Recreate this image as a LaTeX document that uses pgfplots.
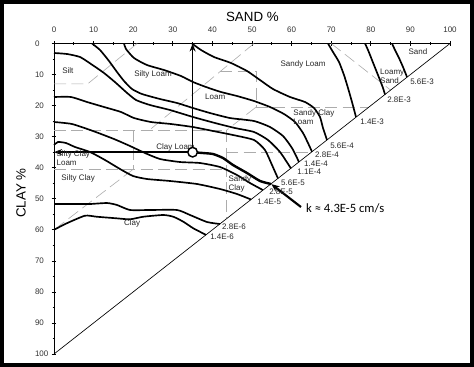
\documentclass[border=0pt]{standalone}
\usepackage{fontspec}
\setmainfont{Liberation Sans}
\newfontfamily\carlito{Carlito}
\usepackage{pgfplots}
\pgfplotsset{compat=1.18}
\usetikzlibrary{arrows.meta}
\pgfplotsset{
  bnd/.style={gray!65, line width=0.45pt, dash pattern=on 9pt off 4pt},
  ctr/.style={black, line width=1.25pt, smooth, tension=0.35, line join=round},
}
\newcommand\lbl{\fontsize{6}{6.8}\selectfont}
\begin{document}
\begin{tikzpicture}
\useasboundingbox (-40.5pt,32.625pt) rectangle (315pt,-242.625pt);
\draw[line width=3pt] (-39pt,31.125pt) rectangle (313.5pt,-241.125pt);
\begin{axis}[
  at={(0pt,0pt)}, anchor=north west,
  scale only axis, width=297pt, height=232.875pt,
  xmin=0, xmax=100, ymin=0, ymax=100, y dir=reverse,
  axis x line=top, axis y line=left,
  axis line style={-, line width=0.6pt},
  xtick={0,10,...,100}, ytick={0,10,...,100},
  minor x tick num=1, minor y tick num=1,
  tick align=center, major tick length=3.5pt, minor tick length=2pt,
  tick style={black, line width=0.5pt},
  ticklabel style={font=\lbl, text=black!80},
  /pgf/number format/assume math mode=true,
  xticklabel style={yshift=3pt},
  yticklabel style={anchor=west, xshift=-16pt},
  clip=false,
]
% texture class boundaries
\addplot[bnd] coordinates {(70,0) (85,15)};
\addplot[bnd] coordinates {(51,20.5) (79.5,20.5)};
\addplot[bnd] coordinates {(42,9) (51,9) (51,20.5)};
\addplot[bnd] coordinates {(50.5,0) (24,28)};
\addplot[bnd] coordinates {(0,13) (8.5,13) (21,0)};
\addplot[bnd] coordinates {(0,28) (43.5,28)};
\addplot[bnd] coordinates {(51,20.5) (43.5,28)};
\addplot[bnd] coordinates {(43.5,28) (43.5,56)};
\addplot[bnd] coordinates {(0,40.5) (43.5,40.5)};
\addplot[bnd] coordinates {(43.5,35) (65,35)};
\addplot[bnd] coordinates {(20,28) (20,40.5)};
\addplot[bnd] coordinates {(20,40.5) (0,60)};
% hypotenuse
\addplot[black, line width=0.5pt] coordinates {(100,0) (0,100)};
% conductivity contours
\addplot[ctr] coordinates {(85.35,0) (86.11,2.09) (87.12,4.67) (88.13,7.57) (89.14,10.79)};
\addplot[ctr] coordinates {(78.54,0) (79.29,2.09) (80.30,5.31) (81.31,8.54) (82.32,11.76) (83.08,14.33) (83.59,16.43)};
\addplot[ctr] coordinates {(69.19,0) (70.45,2.74) (71.97,5.96) (73.23,10.15) (74.24,14.33) (75.25,18.84) (76.26,23.67)};
\addplot[ctr] coordinates {(34.85,0) (37.12,2.09) (40.40,4.35) (44.70,6.28) (48.74,8.86) (52.02,11.76) (55.30,14.66) (59.60,17.23) (63.38,18.84) (65.66,20.78) (67.17,23.67) (67.93,27.22) (68.94,31.08)};
\addplot[ctr] coordinates {(17.68,0) (18.18,1.77) (20.20,4.67) (23.48,6.93) (27.78,8.54) (32.07,10.47) (35.10,12.40) (38.38,14.01) (42.17,15.62) (46.21,16.91) (50.51,18.52) (54.55,20.45) (58.08,22.71) (60.86,25.28) (62.88,28.83) (64.14,32.05) (65.15,34.85)};
\addplot[ctr] coordinates {(9.60,0) (11.62,2.09) (13.89,5.64) (15.91,9.18) (17.68,12.08) (19.70,14.66) (22.22,16.27) (26.77,17.88) (31.06,19.16) (35.10,20.78) (39.39,22.39) (44.44,24.00) (50.51,24.96) (54.55,26.90) (57.83,29.79) (60.10,33.66) (61.87,38.17)};
\addplot[ctr] coordinates {(0,3.06) (3.28,3.38) (6.57,4.35) (9.34,6.60) (12.63,9.50) (15.66,12.72) (18.18,15.62) (20.71,18.20) (24.24,19.81) (29.29,21.42) (35.10,23.67) (40.66,25.61) (45.71,27.22) (50.51,28.50) (54.04,31.08) (57.07,34.94) (59.85,40.26)};
\addplot[ctr] coordinates {(0,17.23) (4.29,17.23) (8.33,18.84) (12.63,20.45) (16.92,22.06) (20.20,24.00) (24.49,25.28) (29.55,25.93) (35.10,26.90) (40.15,28.18) (45.20,29.47) (50.51,31.08) (53.28,34.30) (55.05,39.13) (56.57,43.48)};
\addplot[ctr] coordinates {(0,25.28) (4.55,25.93) (9.85,28.18) (15.15,30.76) (19.19,33.01) (22.98,35.27) (26.77,37.20) (31.82,38.17) (36.87,38.49) (41.92,39.78) (46.21,42.36) (49.49,44.93) (52.78,47.22)};
\addplot[ctr] coordinates {(0,32.69) (1.01,31.72) (3.03,32.05) (5.30,33.33) (9.09,34.94) (12.88,37.52) (16.67,40.42) (19.95,42.67) (23.48,43.64) (29.29,44.28) (36.11,45.25) (41.92,46.86) (46.21,48.47) (49.75,50.24)};
\addplot[ctr] coordinates {(0,51.69) (4.80,51.69) (9.09,51.69) (13.38,51.37) (15.91,52.01) (19.19,53.62) (24.24,53.62) (31.06,53.62) (34.34,55.23) (38.64,57.49) (41.92,58.13)};
\addplot[ctr] coordinates {(0,60.0) (3.21,57.91) (7.83,55.46) (10.78,55.79) (15.83,56.30) (19.19,56.62) (22.55,55.79) (27.60,55.23) (30.13,55.79) (32.65,57.39) (35.18,59.52) (38.38,61.62)};
% interpolated contour through the sample
\addplot[black, line width=1.8pt, smooth, tension=0.35] coordinates {(35,35) (37.63,35.27) (40.15,35.59) (42.68,36.88) (45.20,39.13) (48.74,41.71) (52.02,44.28) (54.80,45.25)};
\addplot[black, line width=1.6pt, -{Stealth[length=6pt,width=5pt]}] coordinates {(62.37,52.66) (54.9,45.3)};
% reading arrows
\addplot[black, line width=1.2pt, -{Stealth[length=6pt,width=4.5pt]}] coordinates {(35,35) (35,0)};
\addplot[black, line width=1.2pt, -{Stealth[length=6pt,width=4.5pt]}] coordinates {(35,35) (0,35)};
\addplot[only marks, mark=*, mark size=3.6pt, mark options={fill=white, draw=black, line width=1.1pt}] coordinates {(35,35)};
% class names
\begin{scope}[every node/.style={font=\lbl, text=black!85, inner sep=0pt}]
\node at (axis cs:3.5,8.9) {Silt};
\node at (axis cs:25.0,10.1) {Silty Loam};
\node at (axis cs:40.7,17.2) {Loam};
\node at (axis cs:62.9,6.9) {Sandy Loam};
\node[align=left, anchor=north west] at (axis cs:82.3,8.2) {Loamy\\Sand};
\node at (axis cs:91.9,2.7) {Sand};
\node[align=left, anchor=north west] at (axis cs:60.4,21.1) {Sandy Clay\\Loam};
\node[anchor=west] at (axis cs:25.8,33.6) {Clay Loam};
\node[align=left, anchor=north west] at (axis cs:0.6,34.3) {Silty Clay\\Loam};
\node at (axis cs:6.1,43.3) {Silty Clay};
\node[align=left, anchor=north west] at (axis cs:44.0,42.4) {Sandy\\Clay};
\node at (axis cs:19.7,58.1) {Clay};
% contour values
\node[anchor=west] at (axis cs:89.9,12.4) {5.6E-3};
\node[anchor=west] at (axis cs:84.1,18.2) {2.8E-3};
\node[anchor=west] at (axis cs:77.3,25.3) {1.4E-3};
\node[anchor=west] at (axis cs:69.7,33.0) {5.6E-4};
\node[anchor=west] at (axis cs:65.9,35.9) {2.8E-4};
\node[anchor=west] at (axis cs:63.1,38.8) {1.4E-4};
\node[anchor=west] at (axis cs:61.4,41.4) {1.1E-4};
\node[anchor=west] at (axis cs:57.3,44.9) {5.6E-5};
\node[anchor=west] at (axis cs:54.3,47.8) {2.8E-5};
\node[anchor=west] at (axis cs:51.3,51.0) {1.4E-5};
\node[anchor=west] at (axis cs:42.4,59.1) {2.8E-6};
\node[anchor=west] at (axis cs:39.4,62.3) {1.4E-6};
\end{scope}
\node[anchor=west, font=\carlito\fontsize{9.5}{11}\selectfont, inner sep=0pt] at (axis cs:63.6,53.0) {k ≈ 4.3E-5 cm/s};
\node[font=\fontsize{10}{12}\selectfont, yshift=19.9pt] at (axis cs:50.1,0) {SAND \%};
\node[font=\fontsize{10}{12}\selectfont, rotate=90] at (axis cs:-8.33,48.2) {CLAY \%};
\end{axis}
\end{tikzpicture}
\end{document}
